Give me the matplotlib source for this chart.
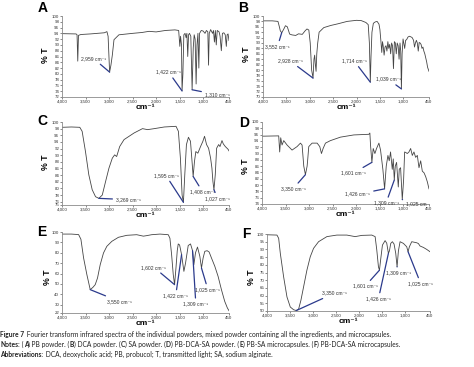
import matplotlib.pyplot as plt

plt.rcParams['font.family'] = ['Liberation Sans', 'DejaVu Sans']

# ---- spectra (wavenumber cm-1, %T) ----
a_wn = [4000, 3700, 3680, 3665, 3650, 3600, 3400, 3100, 3045, 3020,
        2988, 2960, 2930, 2895, 2790, 2500, 2300, 2150, 2000, 1800,
        1600, 1520, 1495, 1480, 1460, 1448, 1430, 1410, 1385, 1362,
        1345, 1327, 1310, 1290, 1262, 1234, 1210, 1190, 1170, 1149,
        1130, 1110, 1091, 1075, 1040, 1000, 960, 930, 900, 885,
        870, 840, 800, 780, 760, 740, 721, 700, 660, 640,
        613, 590, 560, 530, 507, 490, 470, 450]
a_t = [93.9, 93.8, 93.5, 84.4, 93.3, 93.6, 93.8, 94.2, 94.6, 93.0,
       80.6, 83.0, 86.5, 91.8, 93.5, 94.0, 94.3, 94.7, 94.5, 95.0,
       95.2, 95.0, 89.5, 93.0, 90.0, 74.1, 80.0, 93.5, 94.0, 92.5,
       94.0, 86.0, 93.5, 94.0, 93.0, 74.5, 89.0, 93.5, 92.0, 76.5,
       90.0, 94.0, 82.0, 94.0, 95.0, 94.8, 94.0, 95.0, 94.5, 83.0,
       94.0, 95.3, 94.0, 95.0, 91.0, 95.0, 90.0, 95.0, 94.5, 93.0,
       88.0, 94.0, 94.2, 93.5, 89.5, 93.5, 93.8, 91.5]

b_wn = [4000, 3800, 3680, 3650, 3630, 3600, 3560, 3520, 3480, 3430,
        3380, 3300, 3240, 3160, 3100, 3060, 3020, 2990, 2960, 2930,
        2910, 2895, 2880, 2865, 2850, 2830, 2800, 2700, 2550, 2400,
        2200, 2000, 1900, 1800, 1750, 1725, 1705, 1690, 1670, 1640,
        1600, 1560, 1520, 1500, 1480, 1460, 1445, 1430, 1410, 1390,
        1370, 1350, 1330, 1310, 1290, 1270, 1250, 1230, 1210, 1190,
        1170, 1150, 1130, 1110, 1090, 1070, 1055, 1040, 1025, 1005,
        990, 970, 950, 930, 900, 870, 840, 810, 780, 760,
        740, 720, 700, 680, 660, 640, 620, 600, 580, 560,
        540, 520, 500, 480, 460, 450]
b_t = [98.2, 98.2, 98.0, 96.0, 94.5, 93.8, 95.0, 96.4, 96.0, 93.3,
       93.0, 92.8, 93.4, 93.2, 94.5, 95.2, 94.8, 90.0, 80.0, 77.0,
       84.0, 85.5, 82.0, 79.5, 86.0, 90.0, 94.0, 95.7, 96.5, 97.1,
       98.0, 98.4, 98.3, 97.6, 96.8, 90.0, 75.5, 85.0, 94.0, 97.3,
       97.8, 98.0, 97.0, 95.0, 91.0, 86.5, 90.5, 89.0, 85.5, 88.5,
       89.0, 87.0, 90.5, 88.0, 89.5, 86.0, 90.0, 89.0, 80.5, 90.5,
       90.0, 86.0, 90.0, 89.0, 84.0, 90.0, 87.0, 73.0, 86.0, 91.5,
       90.0, 88.0, 91.0, 91.2, 92.2, 92.5, 92.3, 92.0, 91.0, 88.5,
       90.0, 91.0, 90.0, 87.0, 90.2, 90.0, 89.5, 88.0, 88.5, 87.0,
       86.0, 84.5, 83.0, 81.0, 80.0, 79.5]

c_wn = [4000, 3800, 3622, 3572, 3501, 3430, 3358, 3287, 3216, 3144,
        3073, 3002, 2931, 2881, 2838, 2774, 2681, 2467, 2289, 2182,
        2039, 1825, 1576, 1526, 1483, 1447, 1419, 1390, 1355, 1312,
        1269, 1241, 1212, 1184, 1155, 1112, 1055, 1005, 970, 927,
        884, 841, 813, 792, 770, 742, 713, 670, 642, 599,
        571, 528, 471, 450]
c_t = [98.4, 98.5, 98.4, 97.2, 91.1, 84.1, 79.6, 77.5, 77.0, 78.0,
       82.1, 86.1, 89.1, 90.1, 89.6, 92.6, 94.7, 96.7, 98.0, 97.7,
       98.0, 98.5, 98.7, 97.2, 89.1, 78.0, 75.8, 84.1, 93.2, 95.4,
       94.2, 89.1, 83.6, 88.1, 91.1, 90.6, 92.6, 94.2, 95.7, 93.2,
       92.1, 89.1, 86.1, 82.1, 79.6, 84.1, 92.1, 93.2, 92.6, 94.4,
       93.4, 92.6, 91.8, 91.3]

d_wn = [4000, 3645, 3624, 3602, 3574, 3538, 3467, 3361, 3255, 3183,
        3148, 3112, 3077, 3041, 3027, 3006, 2935, 2828, 2772, 2736,
        2701, 2651, 2545, 2332, 2048, 1728, 1707, 1693, 1664, 1636,
        1600, 1565, 1515, 1480, 1430, 1394, 1359, 1323, 1295, 1267,
        1231, 1210, 1188, 1167, 1139, 1103, 1082, 1054, 1018, 990,
        968, 940, 912, 876, 840, 805, 770, 734, 698, 663,
        627, 592, 556, 521, 485, 450]
d_t = [95.5, 95.6, 90.5, 95.0, 92.7, 94.1, 92.7, 91.1, 92.2, 93.3,
       92.7, 86.0, 83.3, 86.0, 88.3, 92.2, 93.3, 93.3, 92.2, 90.0,
       91.6, 93.3, 94.1, 95.2, 95.9, 96.1, 96.5, 92.7, 87.2, 91.6,
       90.0, 91.6, 93.3, 91.1, 84.9, 78.8, 86.0, 89.4, 87.7, 90.5,
       85.0, 88.3, 81.6, 86.0, 87.2, 79.4, 85.0, 85.5, 75.4, 81.6,
       90.5, 90.3, 90.0, 90.5, 91.6, 89.4, 90.5, 88.8, 89.4, 85.5,
       87.7, 84.4, 83.9, 82.7, 81.0, 78.8]

e_wn = [4000, 3800, 3647, 3598, 3541, 3471, 3400, 3343, 3294, 3245,
        3188, 3118, 3047, 2941, 2800, 2623, 2412, 2270, 2200, 2094,
        1917, 1741, 1706, 1670, 1635, 1607, 1578, 1550, 1529, 1500,
        1458, 1409, 1374, 1317, 1268, 1225, 1197, 1162, 1120, 1070,
        1035, 1000, 964, 915, 872, 823, 752, 682, 611, 541,
        484, 450]
e_t = [98.0, 98.0, 97.5, 93.0, 75.0, 58.9, 44.5, 46.7, 49.3, 55.7,
       68.5, 79.8, 86.2, 91.0, 94.9, 96.8, 97.4, 96.0, 96.5, 97.4,
       98.0, 97.4, 94.0, 78.2, 58.9, 49.3, 65.0, 82.0, 88.5, 87.5,
       78.2, 62.1, 70.0, 87.0, 88.5, 82.0, 68.5, 80.0, 85.5, 76.6,
       65.3, 75.0, 81.4, 82.0, 80.7, 75.0, 67.0, 57.3, 44.5, 33.2,
       26.8, 24.2]

f_wn = [4000, 3783, 3746, 3710, 3638, 3565, 3493, 3420, 3362, 3312,
        3261, 3203, 3131, 3058, 2986, 2877, 2696, 2479, 2261, 2080,
        1935, 1718, 1645, 1609, 1573, 1551, 1522, 1486, 1428, 1392,
        1356, 1334, 1305, 1269, 1233, 1196, 1167, 1138, 1102, 1029,
        957, 928, 899, 848, 739, 703, 667, 595, 522, 450]
f_t = [99.5, 99.3, 97.2, 87.4, 72.2, 59.1, 52.6, 50.8, 50.3, 51.2,
       57.0, 65.7, 76.5, 85.2, 90.7, 95.0, 98.3, 99.3, 99.3, 98.3,
       99.1, 99.3, 98.3, 89.6, 78.7, 76.5, 84.0, 92.8, 95.7, 94.0,
       87.4, 89.0, 93.9, 95.0, 93.5, 87.4, 78.7, 89.0, 95.0, 93.9,
       91.7, 88.5, 91.7, 95.0, 94.3, 93.8, 92.2, 91.3, 90.0, 88.5]

x_ticks = [4000, 3500, 3000, 2500, 2000, 1500, 1000, 450]
x_labels = ['4,000', '3,500', '3,000', '2,500', '2,000', '1,500', '1,000', '450']

a_yticks = list(range(72, 101, 2))
b_yticks = list(range(70, 101, 2))
c_yticks = [75] + list(range(76, 101, 2))
d_yticks = list(range(74, 101, 2))
e_yticks = [22] + list(range(30, 101, 10))
f_yticks = list(range(50, 101, 5))

# peak labels: (text, peak wavenumber on the curve)
a_peaks = [('2,959 cm⁻¹', 2988), ('1,422 cm⁻¹', 1448), ('1,310 cm⁻¹', 1234)]
b_peaks = [('3,552 cm⁻¹', 3600), ('2,928 cm⁻¹', 2930), ('1,714 cm⁻¹', 1705), ('1,039 cm⁻¹', 1040)]
c_peaks = [('3,269 cm⁻¹', 3216), ('1,595 cm⁻¹', 1419), ('1,408 cm⁻¹', 1212), ('1,027 cm⁻¹', 770)]
d_peaks = [('3,350 cm⁻¹', 3077), ('1,601 cm⁻¹', 1664), ('1,426 cm⁻¹', 1394), ('1,309 cm⁻¹', 1188), ('1,025 cm', 1018)]
e_peaks = [('3,550 cm⁻¹', 3400), ('1,602 cm⁻¹', 1607), ('1,422 cm⁻¹', 1458), ('1,309 cm⁻¹', 1225), ('1,025 cm⁻¹', 1035)]
f_peaks = [('3,350 cm⁻¹', 3362), ('1,601 cm⁻¹', 1551), ('1,426 cm⁻¹', 1356), ('1,309 cm⁻¹', 1167), ('1,025 cm⁻¹', 928)]

# where each peak label sits (data coords)
a_lbl_pos = [(3330, 85.3), (1733, 80.6), (700, 72.8)]
b_lbl_pos = [(3690, 88.7), (3422, 83.4), (2053, 83.4), (1326, 76.6)]
c_lbl_pos = [(2590, 76.6), (1790, 83.9), (1012, 79.0), (690, 77.0)]
d_lbl_pos = [(3341, 78.8), (2058, 83.8), (1962, 77.1), (1363, 74.3), (721, 74.2)]
e_lbl_pos = [(2785, 33.2), (2047, 66.0), (1583, 38.7), (1155, 30.7), (898, 44.5)]
f_lbl_pos = [(2522, 61.7), (1863, 66.1), (1572, 58.0), (1137, 74.8), (652, 67.8)]

W, H = 474, 367
fig = plt.figure(figsize=(W / 100, H / 100), dpi=100)


def px_rect(x0, x1, y0, y1):
    return [x0 / W, 1 - y1 / H, (x1 - x0) / W, (y1 - y0) / H]


LINE = '#454545'
BLUE = '#2b3a8c'
GRID = '#8a8a8a'

panels = [
    ('A', a_wn, a_t, a_yticks, a_peaks, a_lbl_pos, px_rect(62, 229, 16, 97), (43, 8), (46, 55)),
    ('B', b_wn, b_t, b_yticks, b_peaks, b_lbl_pos, px_rect(263, 429, 16, 97), (243, 8), (247, 54)),
    ('C', c_wn, c_t, c_yticks, c_peaks, c_lbl_pos, px_rect(62, 229, 122, 205), (42, 121), (46, 162)),
    ('D', d_wn, d_t, d_yticks, d_peaks, d_lbl_pos, px_rect(262, 429, 122, 204), (244, 123), (246, 166)),
    ('E', e_wn, e_t, e_yticks, e_peaks, e_lbl_pos, px_rect(62, 229, 232, 313), (42, 232), (47, 277)),
    ('F', f_wn, f_t, f_yticks, f_peaks, f_lbl_pos, px_rect(267, 430, 234, 311), (246, 234), (251, 277)),
]

for letter, wn, t, yticks, peaks, lbl_pos, rect, let_xy, yl_xy in panels:
    ax = fig.add_axes(rect)
    ax.plot(wn, t, color=LINE, lw=0.6)
    ax.set_xlim(4000, 450)
    ax.set_ylim(yticks[0], yticks[-1])
    ax.set_xticks(x_ticks)
    ax.set_xticklabels(x_labels)
    ax.set_yticks(yticks)
    ax.set_yticklabels([str(v) for v in yticks])
    for s in ['top', 'right']:
        ax.spines[s].set_visible(False)
    for s in ['left', 'bottom']:
        ax.spines[s].set_color(GRID)
        ax.spines[s].set_linewidth(0.6)
    ax.tick_params(labelsize=3.2, length=1.2, width=0.4, pad=0.8, colors='#333333')
    ax.set_xlabel('cm⁻¹', fontsize=6, fontweight='bold', labelpad=0.5)

    for (txt, pk), (tx, ty) in zip(peaks, lbl_pos):
        py = t[wn.index(pk)]
        ax.annotate(txt, xy=(pk, py), xytext=(tx, ty), fontsize=3.6, color='#333333',
                    ha='center', va='center', annotation_clip=False,
                    arrowprops=dict(arrowstyle='-', color=BLUE, lw=0.9,
                                    shrinkA=0.5, shrinkB=0))

    fig.text(let_xy[0] / W, 1 - let_xy[1] / H, letter, fontsize=10, fontweight='bold',
             ha='center', va='center')
    fig.text(yl_xy[0] / W, 1 - yl_xy[1] / H, '% T', fontsize=6.3, fontweight='bold',
             rotation=90, ha='center', va='center')

# ---- caption ----
cap = fig.add_axes([0, 0, 1, 1])
cap.axis('off')
cap.set_xlim(0, 1)
cap.set_ylim(0, 1)

caption_lines = [
    [('Figure 7', True), (' Fourier transform infrared spectra of the individual powders, mixed powder '
                          'containing all the ingredients, and microcapsules.', False)],
    [('Notes:', True), (' (', False), ('A', True), (') PB powder. (', False), ('B', True),
     (') DCA powder. (', False), ('C', True), (') SA powder. (', False), ('D', True),
     (') PB-DCA-SA powder. (', False), ('E', True), (') PB-SA microcapsules. (', False),
     ('F', True), (') PB-DCA-SA microcapsules.', False)],
    [('Abbreviations:', True), (' DCA, deoxycholic acid; PB, probucol; T, transmitted light; '
                                'SA, sodium alginate.', False)],
]
cap_y = [338, 348, 358]

for parts, ypx in zip(caption_lines, cap_y):
    prev = None
    for txt, bold in parts:
        kw = dict(fontsize=4.75, fontweight='bold' if bold else 'normal',
                  family=['Lato', 'DejaVu Sans'], color='#222222', va='bottom', ha='left')
        if prev is None:
            prev = cap.text(0.5 / W, 1 - ypx / H, txt, **kw)
        else:
            prev = cap.annotate(txt, xy=(1, 0), xycoords=prev, **kw)

fig.savefig('out.png', dpi=100)
